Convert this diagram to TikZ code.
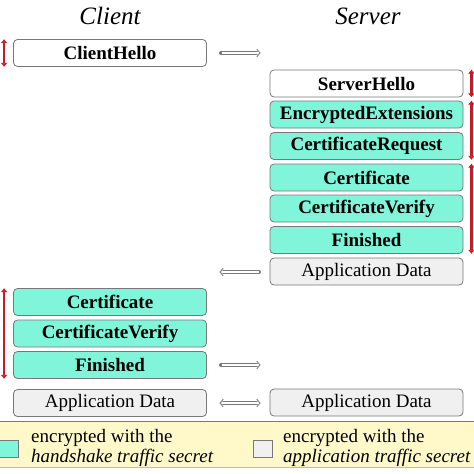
\documentclass[tikz,border=0pt]{standalone}
\usepackage{fontspec}
\setmainfont{Liberation Serif}
\usetikzlibrary{arrows.meta,calc}
\definecolor{teal1}{RGB}{128,245,218}
\definecolor{appgray}{RGB}{240,240,240}
\definecolor{boxline}{RGB}{120,120,120}
\definecolor{legyellow}{RGB}{255,248,200}
\definecolor{redarr}{RGB}{195,30,38}
\tikzset{
  msg/.style={draw=boxline, line width=0.8pt, rounded corners=4pt, minimum width=193pt, minimum height=27pt, inner sep=0pt, font=\fontsize{19}{21}\selectfont\bfseries},
  plainmsg/.style={msg, fill=white},
  encmsg/.style={msg, fill=teal1},
  appmsg/.style={msg, fill=appgray, font=\fontsize{19}{21}\selectfont},
  title/.style={font=\fontsize{25}{28}\selectfont\itshape},
  dblout/.style={draw=boxline, line width=4pt, line cap=round},
  dblin/.style={draw=white, line width=2pt},
  chev/.style={draw=boxline, line width=0.8pt, line join=miter},
  span/.style={draw=redarr, line width=2.6pt, {Latex[length=4pt,width=7pt]}-{Latex[length=4pt,width=7pt]}},
  legtext/.style={font=\fontsize{19}{20}\selectfont, align=left, anchor=west, inner sep=0pt},
  legbox/.style={draw=boxline, line width=0.8pt},
}
% #1 start, #2 end (tip at #2)
\newcommand\flowone[2]{%
  \draw[dblout] ($(#1)!1pt!(#2)$) -- ($(#2)!3.5pt!(#1)$);
  \draw[dblin] ($(#1)!1.5pt!(#2)$) -- ($(#2)!1.5pt!(#1)$);
  \draw[chev] ($(#2)!5pt!50:(#1)$) -- (#2) -- ($(#2)!5pt!-50:(#1)$);}
\newcommand\flowtwo[2]{%
  \draw[dblout] ($(#1)!3.5pt!(#2)$) -- ($(#2)!3.5pt!(#1)$);
  \draw[dblin] ($(#1)!1.5pt!(#2)$) -- ($(#2)!1.5pt!(#1)$);
  \draw[chev] ($(#2)!5pt!50:(#1)$) -- (#2) -- ($(#2)!5pt!-50:(#1)$);
  \draw[chev] ($(#1)!5pt!50:(#2)$) -- (#1) -- ($(#1)!5pt!-50:(#2)$);}
\begin{document}
\begin{tikzpicture}[x=1pt,y=-1pt]
\useasboundingbox (0,0) rectangle (474,474);
% titles
\node[title] (tc) at (110,16) {Client};
\node[title] (ts) at (368,16) {Server};
% client messages
\node[plainmsg] (ch) at (110,53) {ClientHello};
\node[encmsg] (cc) at (110,302) {Certificate};
\node[encmsg] (ccv) at (110,333.5) {CertificateVerify};
\node[encmsg] (cf) at (110,365) {Finished};
\node[appmsg] (cad) at (110,403) {Application Data};
% server messages
\node[plainmsg] (sh) at (366.5,83.5) {ServerHello};
\node[encmsg] (see) at (366.5,114.5) {EncryptedExtensions};
\node[encmsg] (scr) at (366.5,146) {CertificateRequest};
\node[encmsg] (sc) at (366.5,177.5) {Certificate};
\node[encmsg] (scv) at (366.5,208.5) {CertificateVerify};
\node[encmsg] (sf) at (366.5,240) {Finished};
\node[appmsg] (sad) at (366.5,271.5) {Application Data};
\node[appmsg] (sad2) at (366.5,402.5) {Application Data};
% flow arrows
\coordinate (f1a) at (220,53); \coordinate (f1b) at (260,53);
\coordinate (f2a) at (260,272); \coordinate (f2b) at (220,272);
\coordinate (f3a) at (220,365); \coordinate (f3b) at (260,365);
\coordinate (f4a) at (220,403); \coordinate (f4b) at (260,403);
\flowone{f1a}{f1b}
\flowone{f2a}{f2b}
\flowone{f3a}{f3b}
\flowtwo{f4a}{f4b}
% red spans
\draw[span] ([xshift=-9pt]ch.north west) -- ([xshift=-9pt]ch.south west);
\draw[span] ([xshift=-9pt]cc.north west) -- ([xshift=-9pt]cf.south west);
\draw[span] ([xshift=8pt]sh.north east) -- ([xshift=8pt]sh.south east);
\draw[span] ([xshift=8pt]see.north east) -- ([xshift=8pt]scr.south east);
\draw[span] ([xshift=8pt]sc.north east) -- ([xshift=8pt]sf.south east);
% legend
\fill[legyellow] (0,421) rectangle (474,467);
\draw[boxline, line width=1pt] (0,421) -- (474,421);
\draw[boxline!50, line width=0.5pt] (0,467) -- (474,467);
\draw[legbox, fill=teal1] (-3,440) rectangle (18,457);
\node[legtext] (l1) at (31,448) {encrypted with the\\\textit{handshake traffic secret}};
\draw[legbox, fill=appgray] (253,440) rectangle (272,457);
\node[legtext] (l2) at (283,448) {encrypted with the\\\textit{application traffic secret}};
\end{tikzpicture}
\end{document}
